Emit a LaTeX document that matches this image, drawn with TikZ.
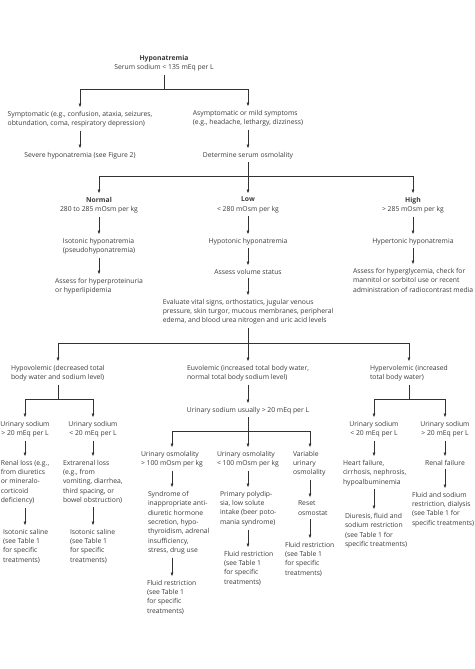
\documentclass[tikz,border=0pt]{standalone}
\usepackage{fontspec}
\setmainfont{Open Sans}
\usetikzlibrary{arrows.meta}
\definecolor{txt}{HTML}{3A3A3A}
\definecolor{lnc}{HTML}{333333}
\begin{document}
\begin{tikzpicture}[x=1pt,y=-1pt,
  t/.style={font=\fontsize{6.8}{9.4}\selectfont, text=txt, inner sep=0pt, outer sep=0pt, align=left, anchor=north},
  tc/.style={t, align=center},
  tw/.style={t, anchor=north west},
  ln/.style={draw=lnc, line width=0.65pt},
  stem/.style={ln, shorten <=3.5pt},
  b2n/.style={ln, -{Latex[length=4pt,width=3pt]}, shorten >=3.5pt},
  n2n/.style={b2n, shorten <=3.5pt}]
\path[use as bounding box] (0,0) rectangle (474,669);
\clip (0,0) rectangle (474,669);
% column and bar coordinates
\coordinate (cA) at (248,0);
\coordinate (cH) at (413,0);
\coordinate (cHv) at (58,0);
\coordinate (cHr) at (409,0);
\coordinate (cE1) at (172,0);
\coordinate (cE3) at (310,0);
\coordinate (barA) at (0,89);
\coordinate (barB) at (0,176);
\coordinate (barC) at (0,343);
\coordinate (barD) at (0,399);
\coordinate (barE) at (0,399);
\coordinate (barF) at (0,431);
% nodes
\node[tc] (top) at (164,55) {\textbf{Hyponatremia}\\Serum sodium < 135 mEq per L};
\node[t] (sym) at (80,111) {Symptomatic (e.g., confusion, ataxia, seizures,\\obtundation, coma, respiratory depression)};
\node[tc] (sev) at (80,152) {Severe hyponatremia (see Figure 2)};
\node[t] (asym) at (248,110) {Asymptomatic or mild symptoms\\(e.g., headache, lethargy, dizziness)};
\node[tc] (det) at (248,152) {Determine serum osmolality};
\node[tc] (nor) at (99,197) {\textbf{Normal}\\280 to 285 mOsm per kg};
\node[tc] (low) at (248,197) {\textbf{Low}\\< 280 mOsm per kg};
\node[tc] (hig) at (413,197) {\textbf{High}\\> 285 mOsm per kg};
\node[t] (iso) at (99,238) {Isotonic hyponatremia\\(pseudohyponatremia)};
\node[tc] (hpo) at (248,238) {Hypotonic hyponatremia};
\node[tc] (hpr) at (413,238) {Hypertonic hyponatremia};
\node[t] (asp) at (99,278) {Assess for hyperproteinuria\\or hyperlipidemia};
\node[tc] (vol) at (248,269) {Assess volume status};
\node[tw] (asg) at (353,268) {Assess for hyperglycemia, check for\\mannitol or sorbitol use or recent\\administration of radiocontrast media};
\node[t] (eva) at (248,299) {Evaluate vital signs, orthostatics, jugular venous\\pressure, skin turgor, mucous membranes, peripheral\\edema, and blood urea nitrogen and uric acid levels};
\node[tw] (hyv) at (11,365) {Hypovolemic (decreased total\\body water and sodium level)};
\node[tw] (euv) at (187,365) {Euvolemic (increased total body water,\\normal total body sodium level)};
\node[tw] (hrv) at (370,365) {Hypervolemic (increased\\total body water)};
\node[tc] (eus) at (248,407) {Urinary sodium usually > 20 mEq per L};
\node[tc] (us1) at (25,421) {Urinary sodium\\> 20 mEq per L};
\node[tc] (us2) at (93,421) {Urinary sodium\\< 20 mEq per L};
\node[t] (ren) at (25,460) {Renal loss (e.g.,\\from diuretics\\or mineralo-\\corticoid\\deficiency)};
\node[tw] (ext) at (63,460) {Extrarenal loss\\(e.g., from\\vomiting, diarrhea,\\third spacing, or\\bowel obstruction)};
\node[tw] (is1) at (3,529) {Isotonic saline\\(see Table 1\\for specific\\treatments)};
\node[tw] (is2) at (70,529) {Isotonic saline\\(see Table 1\\for specific\\treatments)};
\node[tw] (uo1) at (141,451) {Urinary osmolality\\> 100 mOsm per kg};
\node[tw] (uo2) at (217,451) {Urinary osmolality\\< 100 mOsm per kg};
\node[tw] (var) at (293,451) {Variable\\urinary\\osmolality};
\node[tw] (sia) at (148,491) {Syndrome of\\inappropriate anti-\\diuretic hormone\\secretion, hypo-\\thyroidism, adrenal\\insufficiency,\\stress, drug use};
\node[tw] (pol) at (220,491) {Primary polydip-\\sia, low solute\\intake (beer poto-\\mania syndrome)};
\node[tw] (rst) at (298,501) {Reset\\osmostat};
\node[tw] (fr1) at (147,580) {Fluid restriction\\(see Table 1\\for specific\\treatments)};
\node[tw] (fr2) at (224,551) {Fluid restriction\\(see Table 1\\for specific\\treatments)};
\node[tw] (fr3) at (285,542) {Fluid restriction\\(see Table 1\\for specific\\treatments)};
\node[tc] (us3) at (374,421) {Urinary sodium\\< 20 mEq per L};
\node[tc] (us4) at (445,421) {Urinary sodium\\> 20 mEq per L};
\node[tw] (hf) at (343,460) {Heart failure,\\cirrhosis, nephrosis,\\hypoalbuminemia};
\node[tc] (rf) at (445,460) {Renal failure};
\node[tw] (diu) at (345,513) {Diuresis, fluid and\\sodium restriction\\(see Table 1 for\\specific treatments)};
\node[tw] (fsr) at (412,492) {Fluid and sodium\\restriction, dialysis\\(see Table 1 for\\specific treatments)};
% connectors: top
\draw[stem] (top.south) -- (top.south |- barA);
\draw[b2n] (top.south |- barA) -| (sym.north);
\draw[b2n] (top.south |- barA) -| (asym.north);
\draw[n2n] (sym.south) -- (sev.north);
\draw[n2n] (asym.south) -- (det.north);
\draw[stem] (det.south) -- (det.south |- barB);
\draw[b2n] (det.south |- barB) -| (nor.north);
\draw[b2n] (det.south |- barB) -- (low.north);
\draw[b2n] (det.south |- barB) -| (hig.north);
\draw[n2n] (nor.south) -- (iso.north);
\draw[n2n] (iso.south) -- (asp.north);
\draw[n2n] (low.south) -- (hpo.north);
\draw[n2n] (hpo.south) -- (vol.north);
\draw[n2n] (vol.south) -- (eva.north);
\draw[n2n] (hig.south) -- (hpr.north);
\draw[n2n] (hpr.south) -- (asg.north -| cH);
% volume status
\draw[stem] (eva.south) -- (eva.south |- barC);
\draw[b2n] (eva.south |- barC) -| (hyv.north -| cHv);
\draw[b2n] (eva.south |- barC) -- (euv.north -| cA);
\draw[b2n] (eva.south |- barC) -| (hrv.north -| cHr);
% hypovolemic
\draw[stem] (hyv.south -| cHv) -- (barD -| cHv);
\draw[b2n] (barD -| cHv) -| (us1.north);
\draw[b2n] (barD -| cHv) -| (us2.north);
\draw[n2n] (us1.south) -- (ren.north);
\draw[n2n] (us2.south) -- (ext.north -| us2.south);
\draw[n2n] (ren.south) -- (is1.north -| ren.south);
\draw[n2n] (ext.south -| us2.south) -- (is2.north -| us2.south);
% euvolemic
\draw[n2n] (euv.south -| cA) -- (eus.north);
\draw[stem] (eus.south) -- (eus.south |- barF);
\draw[b2n] (eus.south |- barF) -| (uo1.north -| cE1);
\draw[b2n] (eus.south |- barF) -- (uo2.north -| cA);
\draw[b2n] (eus.south |- barF) -| (var.north -| cE3);
\draw[n2n] (uo1.south -| cE1) -- (sia.north -| cE1);
\draw[n2n] (sia.south -| cE1) -- (fr1.north -| cE1);
\draw[n2n] (uo2.south -| cA) -- (pol.north -| cA);
\draw[n2n] (pol.south -| cA) -- (fr2.north -| cA);
\draw[n2n] (var.south -| cE3) -- (rst.north -| cE3);
\draw[n2n] (rst.south -| cE3) -- (fr3.north -| cE3);
% hypervolemic
\draw[stem] (hrv.south -| cHr) -- (barE -| cHr);
\draw[b2n] (barE -| cHr) -| (us3.north);
\draw[b2n] (barE -| cHr) -| (us4.north);
\draw[n2n] (us3.south) -- (hf.north -| us3.south);
\draw[n2n] (hf.south -| us3.south) -- (diu.north -| us3.south);
\draw[n2n] (us4.south) -- (rf.north);
\draw[n2n] (rf.south) -- (fsr.north -| rf.south);
\end{tikzpicture}
\end{document}
